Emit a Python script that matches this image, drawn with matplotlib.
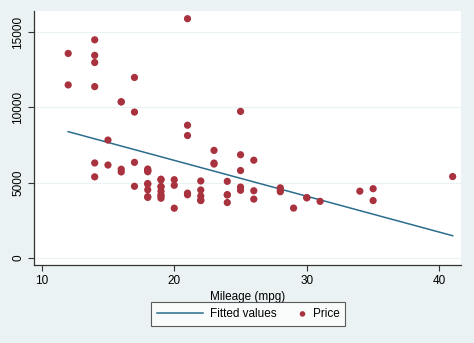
import matplotlib
matplotlib.use('Agg')
import numpy as np
import matplotlib.pyplot as plt
from matplotlib.legend_handler import HandlerPathCollection

# auto data: mileage (mpg) and price
mpg = [22, 17, 22, 20, 15, 18, 26, 20, 16, 19, 14, 14, 21, 29, 16, 22, 22, 24, 19,
       30, 18, 16, 17, 28, 21, 12, 12, 14, 22, 14, 15, 18, 14, 20, 21, 19, 19, 18,
       19, 24, 16, 28, 34, 25, 26, 18, 18, 18, 19, 19, 19, 24, 17, 23, 25, 23, 35,
       24, 21, 21, 25, 28, 30, 14, 26, 35, 18, 31, 18, 23, 41, 25, 25, 17]
price = [4099, 4749, 3799, 4816, 7827, 5788, 4453, 5189, 10372, 4082, 11385, 14500,
         15906, 3299, 5705, 4504, 5104, 3667, 3955, 3984, 4010, 5886, 6342, 4389,
         4187, 11497, 13594, 13466, 3829, 5379, 6165, 4516, 6303, 3291, 8814, 5172,
         4733, 4890, 4181, 4195, 10371, 4647, 4425, 4482, 6486, 4060, 5798, 4934,
         5222, 4723, 4424, 4172, 9690, 6295, 9735, 6229, 4589, 5079, 8129, 4296,
         5799, 4499, 3995, 12990, 3895, 3798, 5899, 3748, 5719, 7140, 5397, 4697,
         6850, 11995]
xticks = [10, 20, 30, 40]
yticks = [0, 5000, 10000, 15000]

bg = '#EAF2F3'
plt.rcParams['font.family'] = ['Liberation Sans', 'DejaVu Sans']


class RightDot(HandlerPathCollection):
    # put the legend dot near the text, like stata does
    def get_xdata(self, legend, xdescent, ydescent, width, height, fontsize):
        x = [width - xdescent - 0.3 * fontsize]
        return x, x


x = np.array(mpg, dtype=float)
y = np.array(price, dtype=float)
b, a = np.polyfit(x, y, 1)
xs = np.array([x.min(), x.max()])

fig = plt.figure(figsize=(4.74, 3.43), dpi=100, facecolor=bg)
ax = fig.add_axes([0.0717, 0.2274, 0.9009, 0.7406])
ax.set_facecolor('white')

for t in yticks:
    ax.axhline(t, color=bg, lw=0.8, zorder=0)

line, = ax.plot(xs, a + b * xs, color='#2B6D8C', lw=1.1, zorder=2)
pts = ax.scatter(x, y, s=27, color='#A8323E', edgecolors='none', zorder=3)

ax.set_xlim(9.42, 41.63)
ax.set_ylim(-490, 16420)
ax.set_xticks(xticks)
ax.set_yticks(yticks)
ax.set_yticklabels([str(t) for t in yticks], rotation=90, va='center')
ax.tick_params(axis='both', labelsize=8.5, color='#333333', length=4, width=0.8, pad=3)

for s in ['top', 'right']:
    ax.spines[s].set_visible(False)
for s in ['left', 'bottom']:
    ax.spines[s].set_color('#333333')
    ax.spines[s].set_linewidth(0.9)

ax.set_xlabel('Mileage (mpg)', fontsize=8.5, labelpad=3)

leg = fig.legend([line, pts], ['Fitted values', 'Price'], loc='center',
                 bbox_to_anchor=(0.5239, 0.0845), ncol=2, fontsize=8.5,
                 frameon=True, fancybox=False, edgecolor='#333333',
                 handlelength=3.9, handletextpad=0.55, columnspacing=-1.4,
                 borderpad=0.5, borderaxespad=0,
                 handler_map={pts: RightDot(numpoints=1, sizes=[16])})
leg.get_frame().set_linewidth(0.8)

fig.savefig('out.png', dpi=100, facecolor=bg)
